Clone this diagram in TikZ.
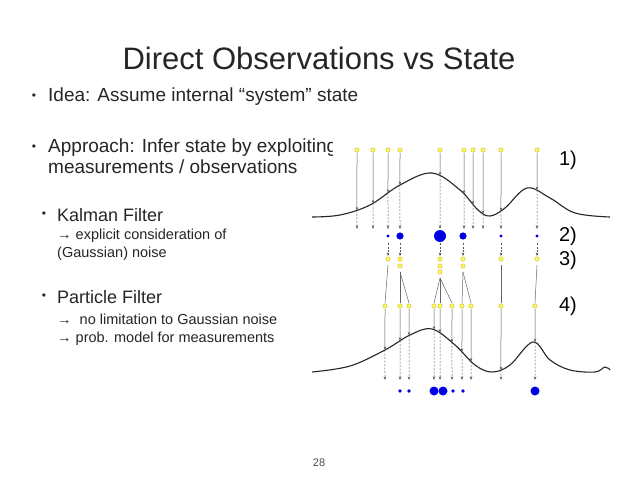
\documentclass[tikz,border=0pt]{standalone}
\usepackage{fontspec}
\setmainfont{Liberation Sans}
\usetikzlibrary{intersections,arrows.meta}
\begin{document}
\begin{tikzpicture}[x=1pt,y=-1pt,
  txt/.style={anchor=west,inner sep=0pt,text=black!85},
  bul/.style={inner sep=0pt,text=black!85,font=\fontsize{12}{12}\selectfont},
  ar/.style={draw=black!65,line width=0.5pt,-{Stealth[length=3.5pt,width=2.5pt]}},
  dar/.style={ar,dash pattern=on 2pt off 1.5pt},
  yp/.style={draw=yellow!80!black,fill=yellow!60,line width=0.5pt},
  bp/.style={fill=blue!90!black}]
\useasboundingbox[fill=white] (0,0) rectangle (638,479);
\node[inner sep=0pt,font=\fontsize{31}{31}\selectfont,text=black!85] (title) at (319,58) {Direct Observations vs State};
\node[bul] (b1) at (34,97) {•};
\node[txt,font=\fontsize{19}{19}\selectfont] (t1) at (48,97) {Idea: Assume internal “system” state};
\node[bul] (b2) at (34,148) {•};
\node[txt,font=\fontsize{19}{19}\selectfont] (t2) at (48,148) {Approach: Infer state by exploiting};
\node[txt,font=\fontsize{19}{19}\selectfont] (t2b) at (48,167) {measurements / observations};
\node[bul] (b3) at (44,215) {•};
\node[txt,font=\fontsize{18}{18}\selectfont] (t3) at (57,215) {Kalman Filter};
\node[txt,font=\fontsize{14.5}{14.5}\selectfont] (t3a) at (57,236) {→ explicit consideration of};
\node[txt,font=\fontsize{14.5}{14.5}\selectfont] (t3b) at (57,254) {(Gaussian) noise};
\node[bul] (b4) at (44,297) {•};
\node[txt,font=\fontsize{18}{18}\selectfont] (t4) at (57,297) {Particle Filter};
\node[txt,font=\fontsize{14.5}{14.5}\selectfont] (t4a) at (57,319) {→\ \ no limitation to Gaussian noise};
\node[txt,font=\fontsize{14.5}{14.5}\selectfont] (t4b) at (57,339) {→ prob. model for measurements};
\node[inner sep=0pt,font=\fontsize{11}{11}\selectfont,text=black!70] (pg) at (319,463) {28};
% figure background
\fill[white] (333,141) rectangle (612,402);
\fill[white] (310,195) rectangle (612,402);
% curves
\draw[name path=c1,line width=1.1pt,black!85] plot[smooth,tension=0.6] coordinates {(312,217) (340,215) (370,205) (400,185) (432,173) (460,190) (478,210) (490,216) (505,208) (527,188) (550,198) (575,213) (610,217)};
\draw[name path=c2,line width=1.1pt,black!85] plot[smooth,tension=0.6] coordinates {(312,372) (350,366) (385,350) (410,335) (432,329) (455,345) (475,365) (492,372) (510,365) (533,342) (550,360) (570,370) (595,372) (605,367) (610,370)};
% step 1
\foreach \x in {357,373,388,400,440,464,473,483,501,537}{
  \path[name path=v] (\x,140) -- (\x,232);
  \path[name intersections={of=c1 and v}] coordinate (i) at (intersection-1);
  \coordinate (s) at (\x,153); \coordinate (e) at (\x,229);
  \draw[ar] (s) -- (i);
  \draw[dar] (i) -- (e);
  \draw[yp] (\x,150) circle (2.2);
}
% step 2 weights
\foreach \x/\r in {388/1.6,400/3.6,440/6,463/3.6,501/1.6,537/1.6}{
  \fill[bp] (\x,236) circle (\r);
  \coordinate (s2) at (\x,243); \coordinate (e2) at (\x,256);
  \draw[dar] (s2) -- (e2);
}
% step 3 resampled
\foreach \x/\y in {388/259,400/259,400/266,440/259,440/266,440/272,463/259,463/266,501/259,537/259}{
  \draw[yp] (\x,\y) circle (2.2);
}
% step 3 -> 4
\foreach \a/\b/\c in {388/265/385,400/272/400,400/272/409,440/278/434,440/278/440,440/278/452,463/272/462,463/272/471,501/265/501,537/265/535}{
  \coordinate (p) at (\a,\b); \coordinate (q) at (\c,303);
  \draw[draw=black!60,line width=0.5pt] (p) -- (q);
}
% step 4
\foreach \x in {385,400,409,434,440,452,462,471,501,535}{
  \path[name path=w] (\x,300) -- (\x,385);
  \path[name intersections={of=c2 and w}] coordinate (j) at (intersection-1);
  \coordinate (s4) at (\x,309); \coordinate (e4) at (\x,380);
  \draw[ar] (s4) -- (j);
  \draw[dar] (j) -- (e4);
  \draw[yp] (\x,306) circle (2.2);
}
% step 5 weights
\foreach \x/\r in {400/1.8,409/1.8,434/4.5,443/4.5,453/1.8,463/1.8,535/4.5}{
  \fill[bp] (\x,391) circle (\r);
}
\node[inner sep=0pt,font=\fontsize{20}{20}\selectfont] (l1) at (568,160) {1)};
\node[inner sep=0pt,font=\fontsize{20}{20}\selectfont] (l2) at (568,236) {2)};
\node[inner sep=0pt,font=\fontsize{20}{20}\selectfont] (l3) at (568,260) {3)};
\node[inner sep=0pt,font=\fontsize{20}{20}\selectfont] (l4) at (568,306) {4)};
\end{tikzpicture}
\end{document}
